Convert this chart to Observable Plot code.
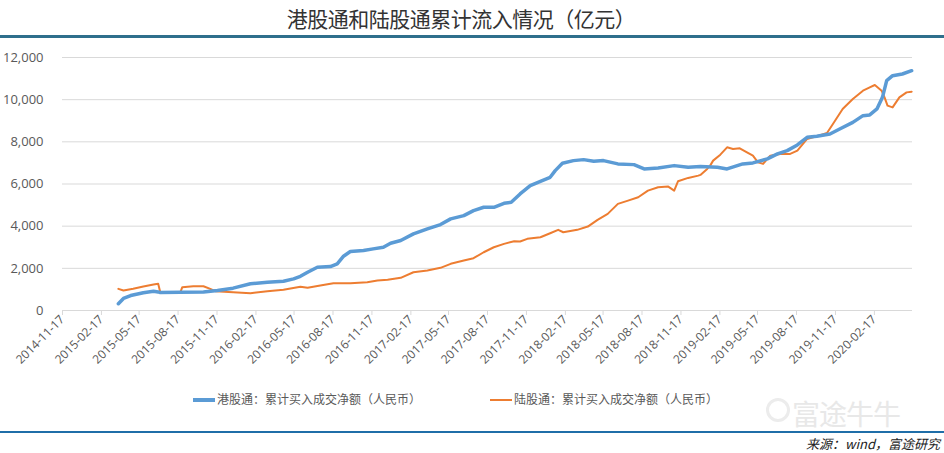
<!DOCTYPE html>
<html>
<head>
<meta charset="utf-8">
<script src="https://cdn.jsdelivr.net/npm/d3@7"></script>
<script src="https://cdn.jsdelivr.net/npm/@observablehq/plot@0.6"></script>
<style>
  html, body { margin: 0; padding: 0; background: #fff; }
  #page { position: relative; width: 944px; height: 453px; overflow: hidden; background: #fff;
          font-family: "Noto Sans CJK SC", "Noto Sans", sans-serif; }
  #title { position: absolute; left: 0; width: 922px; top: 3px; text-align: center;
           font-size: 21px; color: #333; letter-spacing: -0.5px; }
  #topRule { position: absolute; left: 0; top: 35px; width: 944px; height: 3px; background: #2f6f8c; }
  #chart { position: absolute; left: 0; top: 40px; }
  .leg { position: absolute; top: 390px; font-size: 12px; color: #595959; white-space: nowrap; }
  .sw { display: inline-block; width: 22px; vertical-align: middle; margin-right: 2px; position: relative; top: -1px; }
  #botRule { position: absolute; left: 0; top: 431px; width: 944px; height: 2px; background: #1f6ea8; }
  #caption { position: absolute; right: 4px; top: 434px; font-size: 13px; font-style: italic; color: #222; }
  #wm { position: absolute; left: 792px; top: 393px; font-size: 28px; color: #e8e8e8; letter-spacing: -1px; }
  #wmlogo { position: absolute; left: 766px; top: 398px; width: 24px; height: 24px; border-radius: 50%;
            border: 3px solid #ececec; box-sizing: border-box; }
</style>
</head>
<body>
<div id="page">
  <div id="title"></div>
  <div id="topRule"></div>
  <div id="chart"></div>
  <div id="wmlogo"></div>
  <div id="wm">富途牛牛</div>
  <div class="leg" id="leg1" style="left:193px"></div>
  <div class="leg" id="leg2" style="left:490px"></div>
  <div id="botRule"></div>
  <div id="caption"></div>
</div>
<script>
const titleText = "港股通和陆股通累计流入情况（亿元）";
const captionText = "来源：wind，富途研究";
const seriesNames = ["港股通：累计买入成交净额（人民币）", "陆股通：累计买入成交净额（人民币）"];

const xTickLabels = ["2014-11-17","2015-02-17","2015-05-17","2015-08-17","2015-11-17","2016-02-17",
  "2016-05-17","2016-08-17","2016-11-17","2017-02-17","2017-05-17","2017-08-17","2017-11-17",
  "2018-02-17","2018-05-17","2018-08-17","2018-11-17","2019-02-17","2019-05-17","2019-08-17",
  "2019-11-17","2020-02-17"];
const yTicks = [0, 2000, 4000, 6000, 8000, 10000, 12000];
const xDomain = ["2014-11-17", "2020-05-17"];

// 港股通 (southbound) cumulative net buy, 亿元
const hgtDates = ["2015-03-29","2015-04-10","2015-04-27","2015-05-27","2015-06-20","2015-07-01","2015-07-06",
  "2015-08-22","2015-10-16","2015-11-18","2015-12-25","2016-02-04","2016-03-15","2016-04-22","2016-05-16",
  "2016-06-01","2016-06-18","2016-07-11","2016-08-11","2016-08-27","2016-09-10","2016-09-27","2016-10-28",
  "2016-11-20","2016-12-14","2016-12-31","2017-01-24","2017-02-23","2017-03-28","2017-04-28","2017-05-22",
  "2017-06-22","2017-07-15","2017-08-08","2017-09-01","2017-09-25","2017-10-12","2017-11-02","2017-11-26",
  "2017-12-20","2018-01-12","2018-01-24","2018-02-10","2018-03-08","2018-04-01","2018-04-25","2018-05-18",
  "2018-06-21","2018-07-29","2018-08-22","2018-09-24","2018-11-01","2018-12-04","2019-01-02","2019-02-11",
  "2019-03-06","2019-04-12","2019-05-06","2019-06-09","2019-07-03","2019-07-26","2019-08-19","2019-09-11",
  "2019-10-04","2019-11-04","2019-11-27","2019-12-28","2020-01-21","2020-02-06","2020-02-23","2020-03-07",
  "2020-03-17","2020-03-31","2020-04-23","2020-05-15"];
const hgtValues = [320,570,710,840,910,880,850,
  860,880,950,1060,1270,1340,1390,1500,
  1620,1815,2050,2085,2213,2559,2796,2844,
  2924,3000,3190,3318,3635,3872,4076,4346,
  4502,4739,4896,4896,5085,5133,5530,5924,
  6128,6318,6635,6981,7109,7156,7076,7109,
  6953,6919,6716,6763,6872,6791,6825,6791,
  6716,6953,7000,7190,7427,7583,7853,8213,
  8261,8374,8611,8924,9242,9275,9559,10109,
  10900,11137,11218,11374];

// 陆股通 (northbound) cumulative net buy, 亿元
const lgtDates = ["2015-03-29","2015-04-10","2015-05-03","2015-05-27","2015-06-20","2015-07-01","2015-07-06",
  "2015-07-23","2015-08-22","2015-08-27","2015-09-22","2015-10-16","2015-11-01","2015-11-13","2015-12-25",
  "2016-02-04","2016-03-15","2016-04-22","2016-06-01","2016-06-18","2016-07-18","2016-08-18","2016-09-27",
  "2016-11-06","2016-11-30","2016-12-24","2017-01-24","2017-02-23","2017-03-28","2017-04-28","2017-05-22",
  "2017-06-22","2017-07-15","2017-08-08","2017-09-01","2017-09-25","2017-10-19","2017-11-02","2017-11-19",
  "2017-12-20","2018-01-12","2018-01-31","2018-02-12","2018-03-17","2018-04-11","2018-05-04","2018-05-28",
  "2018-06-21","2018-07-15","2018-08-08","2018-08-31","2018-09-24","2018-10-18","2018-11-01","2018-11-10",
  "2018-12-04","2018-12-28","2019-01-02","2019-01-18","2019-01-25","2019-02-01","2019-02-18","2019-03-06",
  "2019-03-20","2019-04-05","2019-04-22","2019-05-06","2019-05-18","2019-05-30","2019-06-16","2019-07-10",
  "2019-08-02","2019-08-19","2019-09-11","2019-09-25","2019-10-28","2019-11-11","2019-12-04","2019-12-28",
  "2020-01-21","2020-02-06","2020-02-18","2020-03-05","2020-03-12","2020-03-19","2020-03-31","2020-04-16",
  "2020-05-03","2020-05-15"];
const lgtValues = [1028,948,1028,1137,1232,1265,867,
  839,839,1104,1152,1152,1028,915,867,
  820,915,981,1130,1076,1185,1294,1294,
  1341,1422,1455,1550,1815,1896,2024,2213,
  2370,2479,2763,3000,3161,3284,3270,3398,
  3474,3664,3825,3711,3825,3981,4299,4583,
  5057,5213,5370,5687,5844,5877,5687,6128,
  6289,6398,6431,6716,6872,7109,7390,7739,
  7664,7692,7502,7346,7028,6953,7346,7427,
  7427,7583,8137,8213,8422,8848,9559,10033,
  10427,10583,10697,10427,10109,9716,9635,10109,
  10346,10379];

const colors = ["#5B9BD5", "#ED7D31"];
const parse = d3.utcParse("%Y-%m-%d");
const hgt = hgtDates.map((d, i) => ({date: parse(d), value: hgtValues[i]}));
const lgt = lgtDates.map((d, i) => ({date: parse(d), value: lgtValues[i]}));

document.getElementById("title").textContent = titleText;
document.getElementById("caption").textContent = captionText;
document.getElementById("leg1").innerHTML = `<span class="sw" style="height:4px;background:${colors[0]}"></span>` + seriesNames[0];
document.getElementById("leg2").innerHTML = `<span class="sw" style="height:2px;background:${colors[1]}"></span>` + seriesNames[1];

const chart = Plot.plot({
  width: 944,
  height: 350,
  marginLeft: 62,
  marginRight: 32,
  marginTop: 17,
  marginBottom: 80,
  style: {fontFamily: "'Open Sans', 'Noto Sans', sans-serif", fontSize: "12px", color: "#595959", background: "transparent"},
  x: {type: "utc", domain: xDomain.map(parse)},
  y: {domain: [0, 12000]},
  marks: [
    Plot.gridY(yTicks, {stroke: "#d9d9d9", strokeOpacity: 1, strokeWidth: 1}),
    Plot.axisY(yTicks, {tickSize: 0, tickPadding: 19, tickFormat: d3.format(","), fontSize: 13, fill: "#595959", label: null}),
    Plot.ruleY([0], {stroke: "#d9d9d9", strokeWidth: 1}),
    Plot.axisX(xTickLabels.map(parse), {tickSize: 5, stroke: "#d9d9d9", tickRotate: -45, tickPadding: 2,
      tickFormat: d3.utcFormat("%Y-%m-%d"), fontSize: 12, fill: "#595959", label: null}),
    Plot.line(lgt, {x: "date", y: "value", stroke: colors[1], strokeWidth: 2}),
    Plot.line(hgt, {x: "date", y: "value", stroke: colors[0], strokeWidth: 3.5})
  ]
});
document.getElementById("chart").appendChild(chart);
</script>
</body>
</html>
